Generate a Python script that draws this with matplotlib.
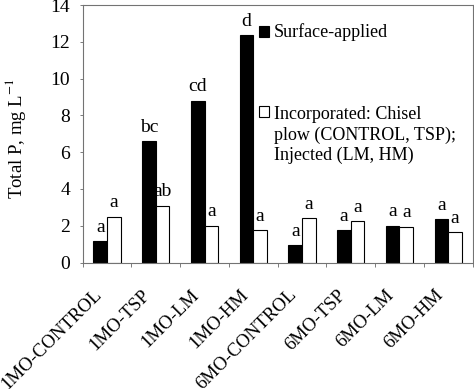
import matplotlib.pyplot as plt
import matplotlib.patches as mpatches
import numpy as np

plt.rcParams['font.family'] = 'Liberation Serif'
plt.rcParams['mathtext.fontset'] = 'stix'

categories = ['1MO-CONTROL', '1MO-TSP', '1MO-LM', '1MO-HM',
              '6MO-CONTROL', '6MO-TSP', '6MO-LM', '6MO-HM']
surface = [1.15, 6.6, 8.8, 12.35, 0.95, 1.75, 2.0, 2.35]
incorporated = [2.5, 3.1, 2.0, 1.75, 2.4, 2.25, 1.95, 1.65]
surface_letters = ['a', 'bc', 'cd', 'd', 'a', 'a', 'a', 'a']
incorp_letters = ['a', 'ab', 'a', 'a', 'a', 'a', 'a', 'a']

fig = plt.figure(figsize=(4.74, 3.89), dpi=100)
ax = fig.add_axes([0.1745, 0.325, 0.8225, 0.662])

x = np.arange(len(categories))
w = 0.28
ax.bar(x - w / 2, surface, w, color='black', edgecolor='black', linewidth=0.8)
ax.bar(x + w / 2, incorporated, w, color='white', edgecolor='black', linewidth=0.8)

# letters above bars
for i in range(len(categories)):
    ax.text(x[i] - w / 2, surface[i] + 0.3, surface_letters[i], ha='center', va='bottom', fontsize=14)
    ax.text(x[i] + w / 2, incorporated[i] + 0.3, incorp_letters[i], ha='center', va='bottom', fontsize=14)

ax.set_xlim(-0.5, len(categories) - 0.5)
ax.set_ylim(0, 14)
ax.set_yticks(range(0, 15, 2))
ax.tick_params(axis='y', labelsize=14, length=2, width=0.6, color='0.4', pad=7)

ax.set_xticks(np.arange(-0.5, len(categories), 1.0))
ax.set_xticklabels([])
ax.tick_params(axis='x', length=3, width=0.6, color='0.4')
for i, c in enumerate(categories):
    ax.annotate(c, xy=(x[i], 0), xycoords=('data', 'axes fraction'),
                xytext=(-10, -17), textcoords='offset points',
                rotation=45, ha='right', va='top', rotation_mode='anchor', fontsize=13.5)

for s in ax.spines.values():
    s.set_color('0.45')
    s.set_linewidth(0.8)

ax.set_ylabel('Total P, mg L$^{-1}$', fontsize=13.5)
ax.yaxis.set_label_coords(-0.14, 0.483)

# legend drawn manually
ax.add_patch(mpatches.Rectangle((3.11, 12.28), 0.22, 0.56, facecolor='black', edgecolor='black', lw=0.8))
ax.text(3.42, 12.55, 'Surface-applied', fontsize=13, va='center', ha='left')
ax.add_patch(mpatches.Rectangle((3.11, 7.93), 0.22, 0.56, facecolor='white', edgecolor='black', lw=0.8))
ax.text(3.42, 8.5, 'Incorporated: Chisel\nplow (CONTROL, TSP);\nInjected (LM, HM)',
        fontsize=13, va='top', ha='left', linespacing=1.25)

fig.savefig('out.png', dpi=100)
